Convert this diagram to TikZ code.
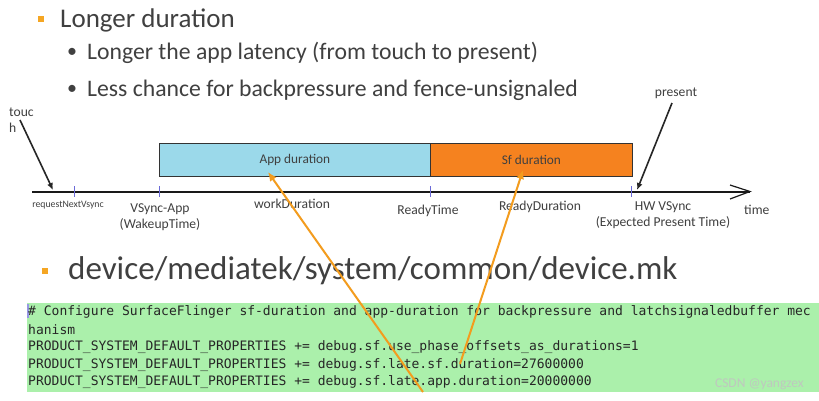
\documentclass[tikz,border=0pt]{standalone}
\usepackage{fontspec}
\setmainfont{Carlito}
\setmonofont{DejaVu Sans Mono}
\usetikzlibrary{arrows.meta}
\definecolor{txt}{HTML}{404040}
\definecolor{bul}{HTML}{F5A623}
\definecolor{appblue}{HTML}{9BD9EA}
\definecolor{sforange}{HTML}{F5821F}
\definecolor{arrorange}{HTML}{F39C1E}
\definecolor{codegreen}{HTML}{ABF0AB}
\definecolor{tickblue}{HTML}{6A6AD8}
\definecolor{wm}{HTML}{BFC7BF}
\tikzset{
  head/.style={anchor=west,inner sep=0,text=txt,font=\fontsize{27}{31}\selectfont},
  sub/.style={anchor=west,inner sep=0,text=txt,font=\fontsize{23.7}{27}\selectfont},
  dot/.style={anchor=west,inner sep=0,text=txt,font=\fontsize{20}{24}\selectfont},
  big/.style={anchor=west,inner sep=0,text=txt,font=\fontsize{33}{37}\selectfont},
  lbl/.style={inner sep=0,text=txt,font=\fontsize{13.6}{15.5}\selectfont,align=center},
  tiny/.style={inner sep=0,text=txt,font=\fontsize{9.8}{11}\selectfont},
  sq/.style={fill=bul,minimum size=6pt,inner sep=0},
  dur/.style={draw=black!80,line width=0.8pt,inner sep=0,text=txt,font=\fontsize{13.3}{15}\selectfont},
  tickmark/.style={draw=tickblue,line width=0.8pt},
  blackarr/.style={draw=black!85,line width=1.6pt,-{Latex[length=7pt,width=6pt]}},
  orarr/.style={draw=arrorange,line width=2pt,-{Latex[length=9pt,width=8pt]}},
  code/.style={anchor=west,inner sep=0,font=\ttfamily\fontsize{13}{15}\selectfont,text=black!85},
}
\begin{document}
\begin{tikzpicture}[x=1pt,y=-1pt]
\useasboundingbox (0,0) rectangle (819,400);
\fill[white] (0,0) rectangle (819,400);
% headings
\node[sq] (b1) at (41,19) {};
\node[head] (h1) at (60,20) {Longer duration};
\node[dot] (d1) at (67,53) {\textbullet};
\node[sub] (l1) at (87,53) {Longer the app latency (from touch to present)};
\node[dot] (d2) at (67,90) {\textbullet};
\node[sub] (l2) at (87,90) {Less chance for backpressure and fence-unsignaled};
% code box
\node[fill=codegreen,minimum width=792pt,minimum height=89pt,inner sep=0,anchor=north west] (codebox) at (27,303) {};
\fill[tickblue!70] (27,304) rectangle (29,318);
\node[code] (c1) at (28,312) {\# Configure SurfaceFlinger sf-duration and app-duration for backpressure and latchsignaledbuffer mec};
\node[code] (c2) at (28,330) {hanism};
\node[code] (c3) at (28,347) {PRODUCT\_SYSTEM\_DEFAULT\_PROPERTIES += debug.sf.use\_phase\_offsets\_as\_durations=1};
\node[code] (c4) at (28,365) {PRODUCT\_SYSTEM\_DEFAULT\_PROPERTIES += debug.sf.late.sf.duration=27600000};
\node[code] (c5) at (28,382) {PRODUCT\_SYSTEM\_DEFAULT\_PROPERTIES += debug.sf.late.app.duration=20000000};
\node[anchor=east,inner sep=0,text=wm,font=\fontsize{13.5}{15}\selectfont] (wmark) at (804,384) {CSDN @yangzex};
% second heading
\node[sq] (b2) at (45,271) {};
\node[big] (h2) at (68,271) {device/mediatek/system/common/device.mk};
% duration boxes
\node[dur,fill=appblue,minimum width=271pt,minimum height=33pt,anchor=north west] (app) at (159,143) {App duration};
\node[dur,fill=sforange,minimum width=202pt,minimum height=33pt,anchor=north west] (sf) at (430,143) {Sf duration};
% timeline
\coordinate (t0) at (32,191.5);
\coordinate (t1) at (750,191.5);
\draw[line width=2pt,black!90] (t0) -- (t1);
\draw[line width=1.2pt,black!90] (730,185) -- (t1) -- (730,199);
\foreach \x/\n in {74/k1,159/k2,430/k3,631/k4}{
  \coordinate (\n a) at (\x,186); \coordinate (\n b) at (\x,197);
  \draw[tickmark] (\n a) -- (\n b);
}
% labels
\node[tiny] (rnv) at (68,205) {requestNextVsync};
\node[lbl] (vsa) at (160,217) {VSync-App\\(WakeupTime)};
\node[lbl] (wd) at (292,204) {workDuration};
\node[lbl] (rt) at (428,211) {ReadyTime};
\node[lbl] (rd) at (540,207) {ReadyDuration};
\node[lbl] (hw) at (663,215) {HW VSync\\(Expected Present Time)};
\node[lbl,anchor=west] (tm) at (744,210) {time};
\node[lbl,anchor=west] (touch) at (9,112) {touc};
\node[lbl,anchor=west] (touchh) at (9,128) {h};
\node[lbl] (pres) at (676,93) {present};
% arrows
\coordinate (ta) at (20,120);
\coordinate (tb) at (53,190);
\draw[blackarr] (ta) -- (tb);
\coordinate (pa) at (672,103);
\coordinate (pb) at (637,190);
\draw[blackarr] (pa) -- (pb);
\coordinate (oa) at (423,392);
\coordinate (ob) at (268,172);
\draw[orarr] (oa) -- (ob);
\coordinate (sa) at (460,364);
\coordinate (sb) at (523,170);
\draw[orarr] (sa) -- (sb);
\end{tikzpicture}
\end{document}
